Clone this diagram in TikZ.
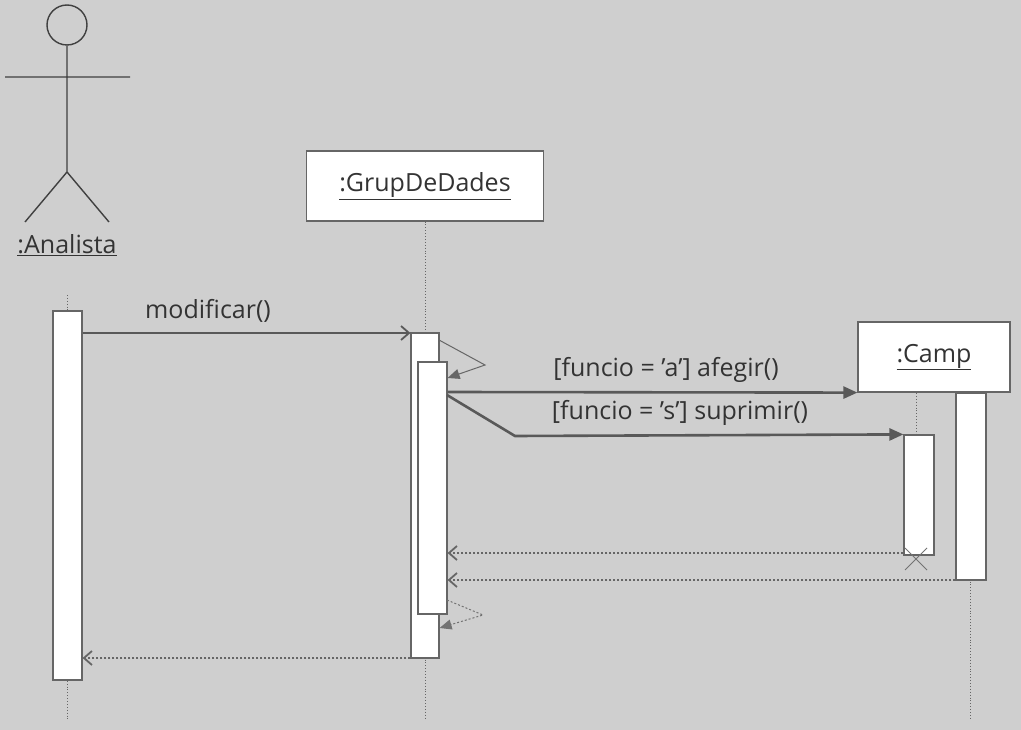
\documentclass[tikz,border=0pt]{standalone}
\usepackage{fontspec}
\setmainfont{Open Sans}
\usetikzlibrary{arrows.meta}
\begin{document}
\begin{tikzpicture}[x=1pt,y=-1pt,
  ln/.style={draw=black!65,line width=2.6pt},
  life/.style={draw=black!60,line width=0.9pt,dotted},
  act/.style={draw=black!60,fill=white,line width=1.2pt},
  obj/.style={draw=black!60,fill=white,line width=1.2pt,minimum height=70pt,font=\fontsize{25}{28}\selectfont,text=black!80},
  lbl/.style={font=\fontsize{25}{28}\selectfont,text=black!80,inner sep=1pt},
  call/.style={ln,-{Triangle[length=14pt,width=12pt]}},
  ret/.style={draw=black!60,line width=1.4pt,dash pattern=on 2pt off 2pt,-{Straight Barb[length=8pt,width=14pt,line width=1.8pt]}},
  sync/.style={draw=black!65,line width=1.4pt,-{Straight Barb[length=8pt,width=14pt,line width=1.8pt]}}]
\fill[black!19] (0,0) rectangle (1021,730);
\useasboundingbox (0,0) rectangle (1021,730);
% actor
\node[draw=black!75,line width=1.4pt,circle,minimum size=40pt,inner sep=0] (head) at (67,25) {};
\coordinate (hip) at (67,172);
\draw[draw=black!75,line width=1.4pt] (head.south) -- (hip) (5,77) -- (130,77) (hip) -- (25,222) (hip) -- (109,222);
\node[lbl] (an) at (67,245) {\underline{:Analista}};
% objects
\node[obj,minimum width=237pt] (gd) at (425,186) {\underline{:GrupDeDades}};
\node[obj,minimum width=152pt] (cp) at (934,357) {\underline{:Camp}};
% lifelines
\draw[life] (67,295) -- (67,720);
\draw[life] (gd.south) -- (425,720);
\draw[life] (970,393) -- (970,720);
\draw[life] (916,393) -- (916,435);
% activations
\node[act,minimum width=29pt,minimum height=369pt,inner sep=0] (a1) at (67.5,495.5) {};
\node[act,minimum width=28pt,minimum height=325pt,inner sep=0] (g1) at (425,495.5) {};
\node[act,minimum width=29pt,minimum height=252pt,inner sep=0] (g2) at (432.5,488) {};
\node[act,minimum width=30pt,minimum height=187pt,inner sep=0] (c1) at (971,486.5) {};
\node[act,minimum width=30pt,minimum height=120pt,inner sep=0] (c2) at (919,495) {};
% destruction
\draw[draw=black!55,line width=1pt] (905,548) -- (927,570) (927,548) -- (905,570);
% messages
\draw[sync] (a1.east |- 0,333) -- (g1.west |- 0,333);
\node[lbl] (m1) at (208,311) {modificar()};
\draw[draw=black!50,line width=1pt,-{Triangle[length=12pt,width=10pt]},black!60] (439,340) -- (485,365) -- (g2.east |- 0,378);
\draw[call] (g2.east |- 0,392) -- (cp.south west);
\node[lbl] (m2) at (666,370) {[funcio = 'a'] afegir()};
\draw[call] (447,395) -- (515,436) -- (c2.north west);
\node[lbl] (m3) at (680,413) {[funcio = 's'] suprimir()};
\draw[ret] (c2.west |- 0,553) -- (g2.east |- 0,553);
\draw[ret] (c1.west |- 0,580) -- (g2.east |- 0,580);
\draw[draw=black!55,line width=1pt,dash pattern=on 2pt off 2pt,-{Triangle[length=12pt,width=10pt]}] (447,600) -- (483,615) -- (g1.east |- 0,628);
\draw[ret] (g1.west |- 0,658) -- (a1.east |- 0,658);
\end{tikzpicture}
\end{document}
